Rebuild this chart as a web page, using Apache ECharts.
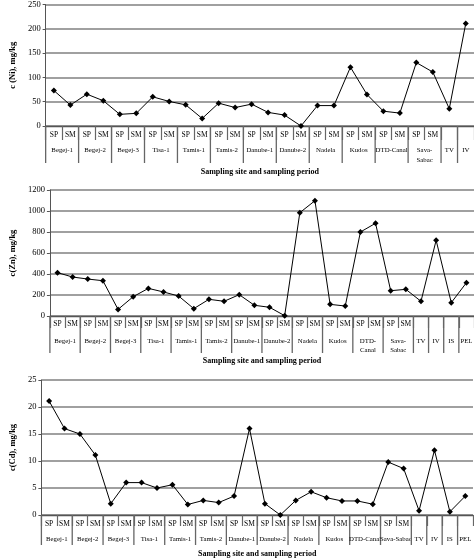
<!DOCTYPE html>
<html><head><meta charset="utf-8">
<script src="https://cdn.jsdelivr.net/npm/echarts@6/dist/echarts.min.js"></script>
<style>html,body{margin:0;padding:0;background:#fff}#c{width:474px;height:559px}</style>
</head><body><div id="c"></div>
<script>
// ---- data ----
const periods1 = ['SP','SM','SP','SM','SP','SM','SP','SM','SP','SM','SP','SM','SP','SM','SP','SM','SP','SM','SP','SM','SP','SM','SP','SM','',''];
const sites1 = ['Begej-1','Begej-2','Begej-3','Tisa-1','Tamis-1','Tamis-2','Danube-1','Danube-2','Nadela','Kudos','DTD-Canal','Sava-\nSabac','TV','IV'];
const spans1 = [2,2,2,2,2,2,2,2,2,2,2,2,1,1];
const ni = [73,43,65.5,52,24,26,60,50.5,43.5,15.5,47,38,45,28,22.5,0,42,42,121,65,30.5,26.5,130.5,111,35.5,211];

const periods2 = ['SP','SM','SP','SM','SP','SM','SP','SM','SP','SM','SP','SM','SP','SM','SP','SM','SP','SM','SP','SM','SP','SM','SP','SM','','','',''];
const sites2 = ['Begej-1','Begej-2','Begej-3','Tisa-1','Tamis-1','Tamis-2','Danube-1','Danube-2','Nadela','Kudos','DTD-\nCanal','Sava-\nSabac','TV','IV','IS','PEL'];
const spans2 = [2,2,2,2,2,2,2,2,2,2,2,2,1,1,1,1];
const zn = [413,371,352,336,63,184,263,229,190,70,159,140,203,102,83,3,984,1098,111,95,800,883,241,254,140,721,127,317];

const periods3 = periods2;
const sites3 = ['Begej-1','Begej-2','Begej-3','Tisa-1','Tamis-1','Tamis-2','Danube-1','Danube-2','Nadela','Kudos','DTD-Canal','Sava-Sabac','TV','IV','IS','PEL'];
const spans3 = spans2;
const cd = [21.1,16,15,11.1,2.1,6,6,5,5.6,1.95,2.7,2.3,3.5,16,2.1,0,2.7,4.3,3.2,2.6,2.6,2.0,9.8,8.6,0.8,12,0.6,3.5];

const yTitles = ['c (Ni), mg/kg','c(Zn), mg/kg','c(Cd), mg/kg'];
const xTitle = 'Sampling site and sampling period';

// ---- layout ----
const FONT = 'Liberation Serif';
const panels = [
  {periods:periods1, sites:sites1, spans:spans1, vals:ni, max:250, interval:50,
   grid:{left:30,right:0,top:4,height:122}, shortLen:14, longLen:37, nameOff:19.5, xGap:42, yGap:17, lblMargin:5},
  {periods:periods2, sites:sites2, spans:spans2, vals:zn, max:1200, interval:200,
   grid:{left:32,right:0,top:190,height:126}, shortLen:12, longLen:37, nameOff:20, xGap:41, yGap:19, lblMargin:4},
  {periods:periods3, sites:sites3, spans:spans3, vals:cd, max:25, interval:5,
   grid:{left:22,right:1,top:380,height:137}, shortLen:11, longLen:30, nameOff:19, xGap:35, yGap:11, lblMargin:5}
];

const grid=[], xAxis=[], yAxis=[], series=[];
panels.forEach((p,i)=>{
  grid.push(p.grid);
  xAxis.push({type:'category', gridIndex:i, data:p.periods, boundaryGap:true,
    axisLine:{show:true, lineStyle:{color:'#555', width:1.3}},
    axisTick:{show:true, interval:0, length:p.shortLen, lineStyle:{color:'#666', width:1.2}},
    axisLabel:{interval:0, fontFamily:FONT, fontSize:7.5, color:'#000', margin:p.lblMargin},
    name:xTitle, nameLocation:'middle', nameGap:p.xGap,
    nameTextStyle:{fontFamily:FONT, fontSize:8, fontWeight:'bold', color:'#000'}});
  yAxis.push({type:'value', gridIndex:i, min:0, max:p.max, interval:p.interval,
    axisLine:{show:true, lineStyle:{color:'#555', width:1}},
    axisTick:{show:true, length:3, lineStyle:{color:'#555'}},
    axisLabel:{fontFamily:FONT, fontSize:8.5, color:'#000', margin:5, formatter:v=>String(v)},
    splitLine:{show:true, lineStyle:{color:'#808080', width:1.6}},
    name:yTitles[i], nameLocation:'middle', nameGap:p.yGap,
    nameTextStyle:{fontFamily:FONT, fontSize:8.5, fontWeight:'bold', color:'#000'}});
  series.push({type:'line', xAxisIndex:i, yAxisIndex:i, data:p.vals,
    symbol:'diamond', symbolSize:6, itemStyle:{color:'#000'},
    lineStyle:{color:'#000', width:1}, z:5});
  // site groups below the axis
  const starts=[]; let acc=0;
  p.spans.forEach(s=>{starts.push(acc); acc+=s;});
  series.push({type:'custom', xAxisIndex:i, yAxisIndex:i, clip:false, silent:true,
    data:p.spans.map((s,k)=>[starts[k], s, 0]), encode:{x:0,y:2},
    renderItem:(params, api)=>{
      const st=api.value(0), sp=api.value(1);
      const bw=api.size([1,0])[0];
      const c=api.coord([st,0]);
      const left=c[0]-bw/2, right=left+sp*bw, y0=c[1];
      return {type:'group', children:[
        {type:'line', shape:{x1:left,y1:y0,x2:left,y2:y0+p.longLen}, style:{stroke:'#666', lineWidth:1.3}},
        {type:'text', style:{text:p.sites[params.dataIndex], x:(left+right)/2, y:y0+p.nameOff,
          textAlign:'center', textVerticalAlign:'top', font:'6.8px "Liberation Serif"', fill:'#000', lineHeight:9.5}}
      ]};
    }});
});

const chart = echarts.init(document.getElementById('c'), null, {renderer:'canvas'});
chart.setOption({animation:false, backgroundColor:'#fff', grid, xAxis, yAxis, series});
</script></body></html>
